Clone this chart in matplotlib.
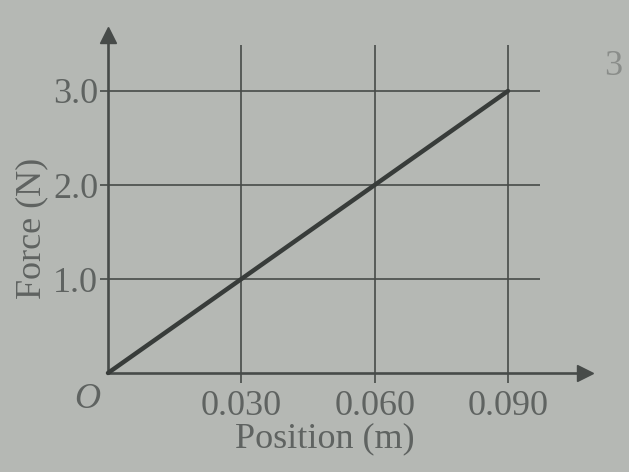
import matplotlib
matplotlib.use("Agg")
import matplotlib.pyplot as plt

# data
positions = [0.0, 0.030, 0.060, 0.090]
forces = [0.0, 1.0, 2.0, 3.0]
x_ticks = [0.030, 0.060, 0.090]
x_labels = ["0.030", "0.060", "0.090"]
y_ticks = [1.0, 2.0, 3.0]
y_labels = ["1.0", "2.0", "3.0"]

bg = "#b5b8b4"
line_col = "#474b49"
text_col = "#5f6361"

fig = plt.figure(figsize=(6.29, 4.72), dpi=100, facecolor=bg)
ax = fig.add_axes([0, 0, 1, 1], facecolor=bg)

# pixel mapping: x=0 at px 108, 0.090 at px 508 ; y=0 at px 373, 3.0 at px 91
sx = 400 / 0.090
sy = 282 / 3.0
ax.set_xlim(-108 / sx, (629 - 108) / sx)
ax.set_ylim(-(472 - 373) / sy, 373 / sy)

x_end = (585 - 108) / sx
y_end = (373 - 35) / sy
grid_right = (540 - 108) / sx
grid_top = (373 - 45) / sy

# grid lines
ax.hlines(y_ticks, 0, grid_right, color=line_col, lw=1.2, zorder=1)
ax.vlines(x_ticks, 0, grid_top, color=line_col, lw=1.2, zorder=1)

# axes
for s in ["top", "right"]:
    ax.spines[s].set_visible(False)
ax.spines["left"].set_position(("data", 0))
ax.spines["bottom"].set_position(("data", 0))
ax.spines["left"].set_bounds(0, y_end)
ax.spines["bottom"].set_bounds(0, x_end)
for s in ["left", "bottom"]:
    ax.spines[s].set_color(line_col)
    ax.spines[s].set_linewidth(1.9)
ax.plot([x_end], [0], marker=">", ms=12, color=line_col, clip_on=False, zorder=3)
ax.plot([0], [y_end], marker="^", ms=12, color=line_col, clip_on=False, zorder=3)

font = "Liberation Serif"
fs = 26
ax.set_xticks(x_ticks, x_labels, fontsize=fs, family=font, color=text_col)
ax.set_yticks(y_ticks, y_labels, fontsize=fs, family=font, color=text_col)
ax.tick_params(axis="x", direction="out", length=7, width=1.2, color=line_col, pad=5)
ax.tick_params(axis="y", direction="out", length=6, width=1.2, color=line_col, pad=1)

# the force line
ax.plot(positions, forces, color="#383c3a", lw=3.2, solid_capstyle="round", zorder=4)

ax.text(-21 / sx, -26 / sy, "O", fontsize=fs, family=font, style="italic",
        color=text_col, ha="center", va="center")
ax.text(217 / sx, -66 / sy, "Position (m)", fontsize=fs, family=font,
        color=text_col, ha="center", va="center")
ax.text(-76 / sx, 145 / sy, "Force (N)", fontsize=fs, family=font,
        color=text_col, ha="center", va="center", rotation=90)
fig.text(0.96, 0.86, "3", fontsize=fs, family=font, color="#8a8d8a",
         ha="left", va="center")

fig.savefig("out.png", dpi=100, facecolor=bg)
